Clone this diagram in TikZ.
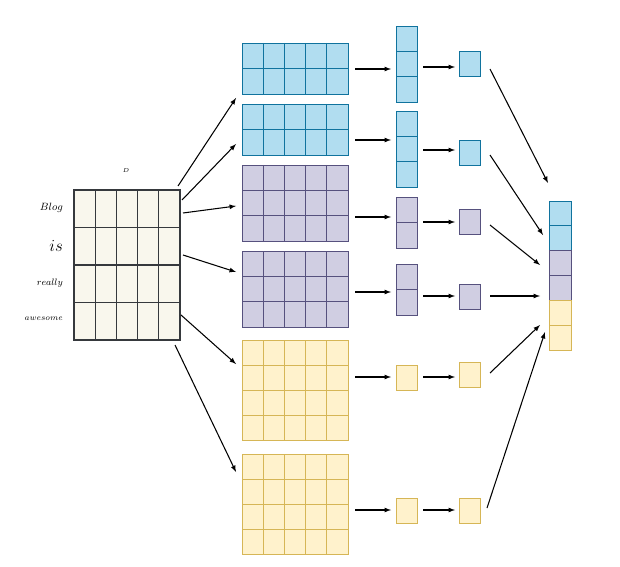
\documentclass[tikz,border=0pt]{standalone}
\begin{document}
\begin{tikzpicture}[x=0.03cm,y=-0.03cm,
  arr/.style={-latex,thick,line width=0.9pt},
  gw/.style={fill=gray!8!yellow!6,draw=black!75,line width=0.9pt},
  bl/.style={fill=cyan!25!blue!20!white,draw=cyan!60!blue!80!black,line width=0.7pt},
  pu/.style={fill=violet!18!white,draw=violet!50!black,line width=0.7pt},
  ye/.style={fill=yellow!25!orange!15!white,draw=yellow!60!orange!80!black,line width=0.7pt}]
\definecolor{cg}{HTML}{F9F7ED}\definecolor{cgd}{HTML}{36393D}
\definecolor{cb}{HTML}{B1DDF0}\definecolor{cbd}{HTML}{10739E}
\definecolor{cp}{HTML}{D0CEE2}\definecolor{cpd}{HTML}{56517E}
\definecolor{cy}{HTML}{FFF2CC}\definecolor{cyd}{HTML}{D6B656}
\tikzset{gw/.style={fill=cg,draw=cgd,line width=0.9pt},
 bl/.style={fill=cb,draw=cbd,line width=0.7pt},
 pu/.style={fill=cp,draw=cpd,line width=0.7pt},
 ye/.style={fill=cy,draw=cyd,line width=0.7pt}}
\useasboundingbox (0,0) rectangle (620,567);
% grid macro: name, style, x1,y1,x2,y2, cols, rows
\newcommand\blk[8]{%
  \draw[#2] (#3,#4) rectangle (#5,#6);
  \pgfmathsetmacro\dx{(#5-#3)/#7}\pgfmathsetmacro\dy{(#6-#4)/#8}
  \ifnum#7>1 \foreach \i in {1,...,\numexpr#7-1\relax}{\draw[#2,fill=none] ({#3+\i*\dx},#4)--({#3+\i*\dx},#6);}\fi
  \ifnum#8>1 \foreach \j in {1,...,\numexpr#8-1\relax}{\draw[#2,fill=none] (#3,{#4+\j*\dy})--(#5,{#4+\j*\dy});}\fi
  \node[inner sep=0,minimum size=0] (#1) at ({(#3+#5)/2},{(#4+#6)/2}) {};}
\blk{E}{gw}{74}{190}{180}{340}{5}{4}
\blk{M1}{bl}{242}{43}{348}{94}{5}{2}
\blk{M2}{bl}{242}{104}{348}{155}{5}{2}
\blk{M3}{pu}{242}{165}{348}{241}{5}{3}
\blk{M4}{pu}{242}{251}{348}{327}{5}{3}
\blk{M5}{ye}{242}{340}{348}{440}{5}{4}
\blk{M6}{ye}{242}{454}{348}{554}{5}{4}
\blk{C1}{bl}{396}{26}{417}{102}{1}{3}
\blk{C2}{bl}{396}{111}{417}{187}{1}{3}
\blk{C3}{pu}{396}{197}{417}{248}{1}{2}
\blk{C4}{pu}{396}{264}{417}{315}{1}{2}
\blk{C5}{ye}{396}{365}{417}{390}{1}{1}
\blk{C6}{ye}{396}{498}{417}{523}{1}{1}
\blk{S1}{bl}{459}{51}{480}{76}{1}{1}
\blk{S2}{bl}{459}{140}{480}{165}{1}{1}
\blk{S3}{pu}{459}{209}{480}{234}{1}{1}
\blk{S4}{pu}{459}{284}{480}{309}{1}{1}
\blk{S5}{ye}{459}{362}{480}{387}{1}{1}
\blk{S6}{ye}{459}{498}{480}{523}{1}{1}
\blk{F1}{bl}{549}{201}{571}{250}{1}{2}
\blk{F2}{pu}{549}{250}{571}{300}{1}{2}
\blk{F3}{ye}{549}{300}{571}{350}{1}{2}
\node (D) at (126,170) {\tiny $D$};
\node[anchor=east] (w1) at (67,208) {\small $Blog$};
\node[anchor=east] (w2) at (67,246) {\Large $is$};
\node[anchor=east] (w3) at (67,283) {\footnotesize $really$};
\node[anchor=east] (w4) at (67,319) {\scriptsize $awesome$};
\foreach \n/\a/\b/\c/\d in {1/178/186/236/98,2/182/200/236/144,3/183/213/236/206,4/183/255/236/272,5/181/315/236/364,6/175/345/236/472}{
 \coordinate (ea\n) at (\a,\b); \coordinate (eb\n) at (\c,\d); \draw[arr] (ea\n)--(eb\n);}
\foreach \n/\y in {1/69,2/140,3/217,4/292,5/377,6/510}{
 \coordinate (ma\n) at (355,\y); \coordinate (mb\n) at (391,\y); \draw[arr] (ma\n)--(mb\n);}
\foreach \n/\y in {1/67,2/150,3/222,4/296,5/377,6/510}{
 \coordinate (ca\n) at (423,\y); \coordinate (cb\n) at (455,\y); \draw[arr] (ca\n)--(cb\n);}
\foreach \n/\a/\b/\c/\d in {1/490/69/548/183,2/490/155/543/235,3/490/225/540/265,4/490/296/540/296,5/490/373/540/325,6/487/508/545/332}{
 \coordinate (sa\n) at (\a,\b); \coordinate (sb\n) at (\c,\d); \draw[arr] (sa\n)--(sb\n);}
\end{tikzpicture}
\end{document}
